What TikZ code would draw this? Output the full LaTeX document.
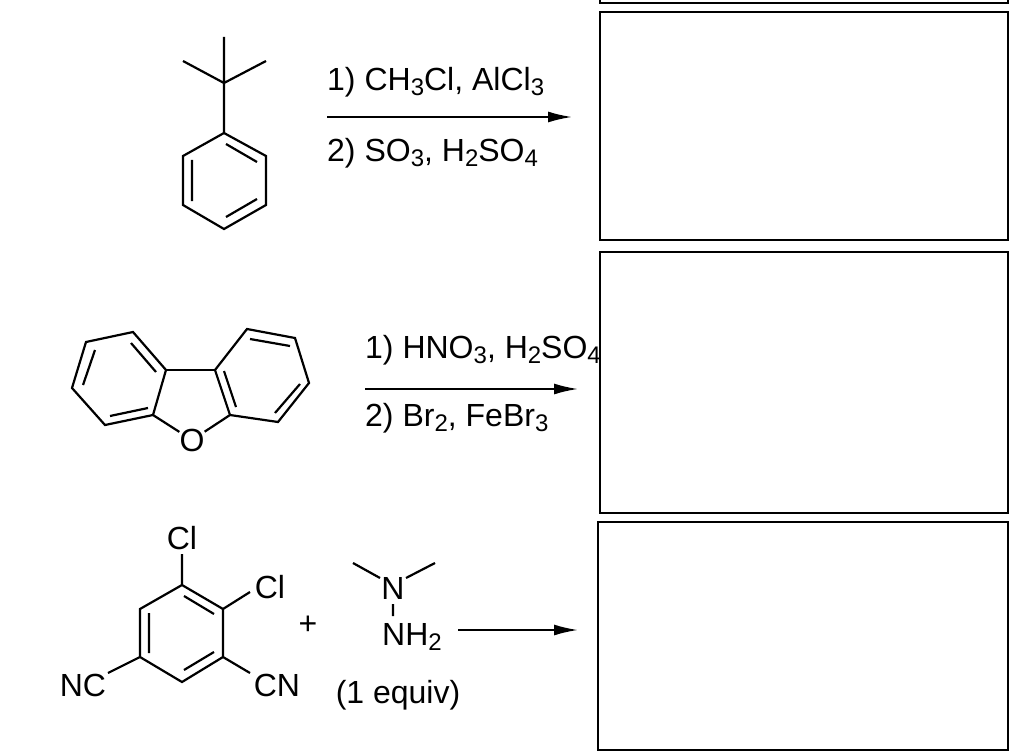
\documentclass[tikz,border=0pt]{standalone}
\usepackage{fontspec}
\setmainfont{Liberation Sans}
\usetikzlibrary{arrows.meta}
\newcommand{\sbs}[1]{\raisebox{-0.3ex}{\fontsize{24}{26}\selectfont #1}}
\begin{document}
\begin{tikzpicture}[x=1pt,y=-1pt,
  bd/.style={line width=2.2pt},
  lbl/.style={font=\fontsize{32}{36}\selectfont,inner sep=0pt},
  rx/.style={line width=1.9pt,-{Latex[length=24pt,width=11pt]}},
  bx/.style={draw,line width=2pt}]
\useasboundingbox (0,0) rectangle (1016,754);
% molecule 1
\draw[bd] (224,37)--(224,83) (183,61)--(224,83)--(266,61) (224,83)--(224,133);
\draw[bd] (224,133)--(266,156)--(266,205)--(224,229)--(183,205)--(183,156)--cycle;
\draw[bd] (226,144)--(257,162) (192,160)--(192,201) (257,199)--(226,217);
% molecule 2
\draw[bd] (166,370)--(133,332)--(86,342)--(72,388)--(105,425)--(153,415)--cycle;
\draw[bd] (215,370)--(247,329)--(295,338)--(309,383)--(278,422)--(230,415)--cycle;
\draw[bd] (166,370)--(215,370);
\draw[bd] (156,372)--(131,343) (95,350)--(83,385) (110,416)--(148,408);
\draw[bd] (250,339)--(290,346) (300,384)--(275,413) (224,371)--(236,407);
\node[lbl] (O) at (192,440) {O};
\draw[bd] (153,415)--(O) (230,415)--(O);
% molecule 3
\draw[bd] (182,585)--(223,609)--(223,657)--(182,682)--(140,657)--(140,609)--cycle;
\draw[bd] (184,596)--(214,614) (149,613)--(149,653) (214,652)--(184,670);
\node[lbl] (cl1) at (182,538) {Cl};
\node[lbl] (cl2) at (270,587) {Cl};
\node[lbl] (cn1) at (277,685) {CN};
\node[lbl] (nc1) at (83,685) {NC};
\draw[bd] (182,585)--(182,554) (223,609)--(250,592) (223,657)--(250,673) (140,657)--(108,673);
\node[lbl] (plus) at (308,625) {+};
\node[lbl] (N) at (393,588) {N};
\node[lbl] (NH) at (412,637) {NH\sbs{2}};
\draw[bd] (353,563)--(380,578) (435,563)--(406,578) (393,604)--(393,616);
\node[lbl] (eq) at (398,695) {(1 equiv)};
% arrows and reagents
\coordinate (a1) at (327,117); \coordinate (b1) at (572,117);
\draw[rx] (a1)--(b1);
\node[lbl,anchor=west] (r1) at (327,82) {1) CH\sbs{3}Cl, AlCl\sbs{3}};
\node[lbl,anchor=west] (r2) at (327,153) {2) SO\sbs{3}, H\sbs{2}SO\sbs{4}};
\coordinate (a2) at (365,389); \coordinate (b2) at (578,389);
\draw[rx] (a2)--(b2);
\node[lbl,anchor=west] (r3) at (365,350) {1) HNO\sbs{3}, H\sbs{2}SO\sbs{4}};
\node[lbl,anchor=west] (r4) at (365,418) {2) Br\sbs{2}, FeBr\sbs{3}};
\coordinate (a3) at (458,630); \coordinate (b3) at (578,630);
\draw[rx] (a3)--(b3);
% boxes
\draw[line width=2pt] (600,-2)--(600,3)--(1008,3)--(1008,-2);
\draw[bx] (600,12) rectangle (1008,240);
\draw[bx] (600,252) rectangle (1008,513);
\draw[bx] (598,522) rectangle (1008,750);
\end{tikzpicture}
\end{document}
